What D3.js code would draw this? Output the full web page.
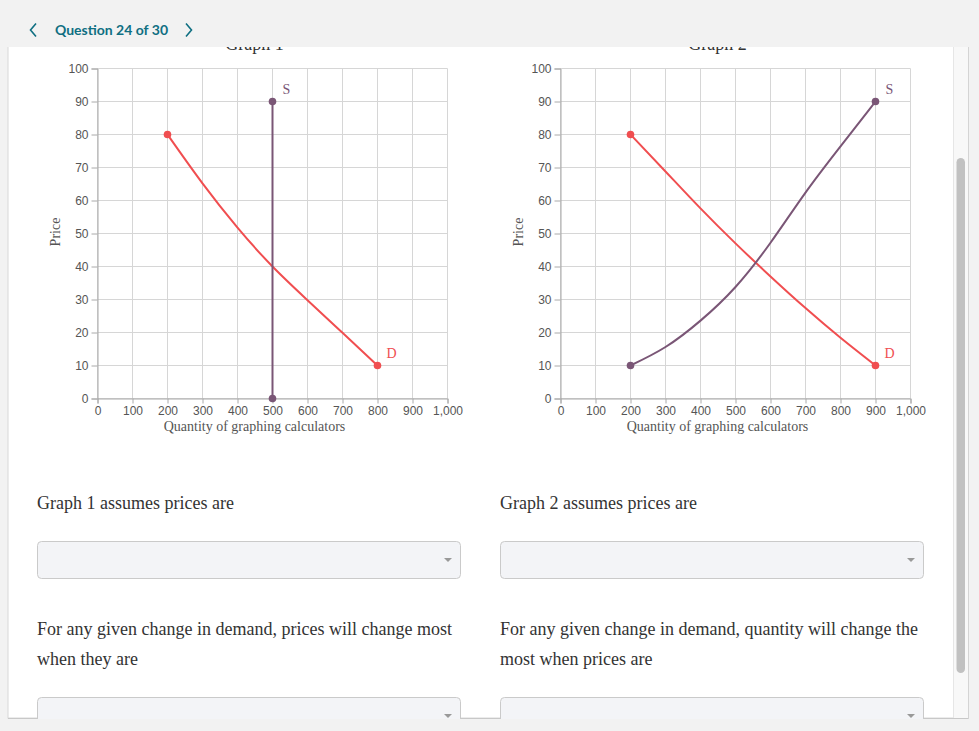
<!DOCTYPE html>
<html><head><meta charset="utf-8">
<script src="https://cdn.jsdelivr.net/npm/d3@7"></script>
<style>
html,body{margin:0;padding:0;background:#f2f2f2;overflow:hidden;}
svg{display:block;}
</style></head>
<body>
<svg id="page" width="979" height="731"></svg>
<script>
// ---- data ----
const xTickValues = [0,100,200,300,400,500,600,700,800,900,1000];
const yTickValues = [0,10,20,30,40,50,60,70,80,90,100];
const chartTitles = ["Graph 1","Graph 2"];
const xAxisTitle = "Quantity of graphing calculators";
const yAxisTitle = "Price";

const g1DemandQty   = [200,300,400,500,600,700,800];
const g1DemandPrice = [80,65.2,51.8,40,29.8,19.9,10];
const g1SupplyQty   = [500,500];
const g1SupplyPrice = [0,90];

const g2DemandQty   = [200,300,400,500,600,700,800,900];
const g2DemandPrice = [80,68.8,57.6,47,37,27.4,18.4,10];
const g2SupplyQty   = [200,300,400,500,600,700,800,900];
const g2SupplyPrice = [10,15.6,23.6,33.8,47.2,62.4,76.4,90];

const questionLabel = "Question 24 of 30";
const prompts = [
  ["Graph 1 assumes prices are"],
  ["Graph 2 assumes prices are"],
  ["For any given change in demand, prices will change most","when they are"],
  ["For any given change in demand, quantity will change the","most when prices are"]
];

const demandColor = "#f04e50", supplyColor = "#7a5676";

const svg = d3.select("#page");

// card
svg.append("rect").attr("x",8).attr("y",40).attr("width",960).attr("height",678)
  .attr("fill","#fff").attr("stroke","#d8d8d8").attr("stroke-width",1);
svg.append("line").attr("x1",8).attr("x2",968.5).attr("y1",718.5).attr("y2",718.5).attr("stroke","#c8c8c8");

const charts = [
  {x0:97.5, title:chartTitles[0], demand:[g1DemandQty,g1DemandPrice], supply:[g1SupplyQty,g1SupplyPrice], supplyCurve:d3.curveLinear},
  {x0:560.5, title:chartTitles[1], demand:[g2DemandQty,g2DemandPrice], supply:[g2SupplyQty,g2SupplyPrice], supplyCurve:d3.curveNatural}
];

charts.forEach(c=>{
  const x = d3.scaleLinear().domain([0,1000]).range([c.x0, c.x0+350]);
  const y = d3.scaleLinear().domain([0,100]).range([398.5, 68.5]);
  const g = svg.append("g");

  // title (partly hidden under header)
  g.append("text").attr("x",c.x0+157).attr("y",50).attr("text-anchor","middle")
    .attr("font-family","Liberation Serif, serif").attr("font-size",18).attr("fill","#333").text(c.title);

  // grid
  g.append("g").selectAll("line").data(xTickValues).join("line")
    .attr("x1",d=>x(d)).attr("x2",d=>x(d)).attr("y1",y(0)).attr("y2",y(100))
    .attr("stroke","#d6d6d6").attr("stroke-width",1);
  g.append("g").selectAll("line").data(yTickValues).join("line")
    .attr("x1",x(0)).attr("x2",x(1000)).attr("y1",d=>y(d)).attr("y2",d=>y(d))
    .attr("stroke","#d6d6d6").attr("stroke-width",1);

  // axes
  const xAxis = d3.axisBottom(x).tickValues(xTickValues).tickFormat(d3.format(",")).tickSize(5).tickPadding(3);
  const yAxis = d3.axisLeft(y).tickValues(yTickValues).tickSize(6).tickPadding(3);
  const gx = g.append("g").attr("transform",`translate(0,${y(0)})`).call(xAxis);
  const gy = g.append("g").attr("transform",`translate(${x(0)},0)`).call(yAxis);
  [gx,gy].forEach(a=>{
    a.select(".domain").attr("stroke","#aaa");
    a.selectAll(".tick line").attr("stroke","#aaa");
    a.selectAll(".tick text").attr("fill","#555").attr("font-family","Liberation Sans, Arial, sans-serif").attr("font-size",12);
  });

  // axis titles
  g.append("text").attr("x",c.x0+157).attr("y",431).attr("text-anchor","middle")
    .attr("font-family","Liberation Serif, serif").attr("font-size",14).attr("fill","#555").text(xAxisTitle);
  g.append("text").attr("transform",`translate(${c.x0-38},232) rotate(-90)`).attr("text-anchor","middle")
    .attr("font-family","Liberation Serif, serif").attr("font-size",14).attr("fill","#555").text(yAxisTitle);

  // curves
  const drawCurve = (qty, price, color, curve, label)=>{
    const pts = qty.map((q,i)=>[q,price[i]]);
    g.append("path").datum(pts)
      .attr("d", d3.line().x(d=>x(d[0])).y(d=>y(d[1])).curve(curve))
      .attr("fill","none").attr("stroke",color).attr("stroke-width",2);
    const ends = [pts[0], pts[pts.length-1]];
    g.selectAll(null).data(ends).join("circle")
      .attr("cx",d=>x(d[0])).attr("cy",d=>y(d[1])).attr("r",3.8).attr("fill",color);
    const last = pts[pts.length-1];
    g.append("text").attr("x",x(last[0])+14).attr("y",y(last[1])-8)
      .attr("text-anchor","middle").attr("font-family","Liberation Serif, serif").attr("font-size",14)
      .attr("fill",color).text(label);
  };
  drawCurve(c.demand[0], c.demand[1], demandColor, d3.curveNatural, "D");
  drawCurve(c.supply[0], c.supply[1], supplyColor, c.supplyCurve, "S");
});

// prompts and dropdowns
const col = [37, 500];
const txt = (x0,y0,lines)=>{
  lines.forEach((l,i)=>svg.append("text").attr("x",x0).attr("y",y0+i*30)
    .attr("font-family","Liberation Serif, serif").attr("font-size",18).attr("fill","#333").text(l));
};
txt(col[0],509,prompts[0]); txt(col[1],509,prompts[1]);
txt(col[0],635,prompts[2]); txt(col[1],635,prompts[3]);

const dropdown = (x0,y0,h)=>{
  svg.append("rect").attr("x",x0+0.5).attr("y",y0+0.5).attr("width",423).attr("height",h)
    .attr("rx",4).attr("fill","#f3f4f7").attr("stroke","#cacaca");
  svg.append("path").attr("d",`M${x0+407},${y0+17} l8,0 l-4,4 z`).attr("fill","#999");
};
dropdown(37,541,37); dropdown(500,541,37);
dropdown(37,697,37); dropdown(500,697,37);

// mask below card
svg.append("rect").attr("x",0).attr("y",719).attr("width",979).attr("height",12).attr("fill","#f2f2f2");

// scrollbar
svg.append("rect").attr("x",953).attr("y",47).attr("width",15).attr("height",671).attr("fill","#f8f8f8");
svg.append("line").attr("x1",953.5).attr("x2",953.5).attr("y1",47).attr("y2",718).attr("stroke","#e6e6e6");
svg.append("line").attr("x1",968.5).attr("x2",968.5).attr("y1",40).attr("y2",719).attr("stroke","#d4d4d4");
svg.append("rect").attr("x",956.5).attr("y",158).attr("width",8.5).attr("height",515).attr("rx",4.25).attr("fill","#c1c1c1");

// header overlay
svg.append("rect").attr("x",0).attr("y",0).attr("width",979).attr("height",47).attr("fill","#f2f2f2");
svg.append("path").attr("d","M36,23.5 L30.5,30 L36,36.5").attr("fill","none").attr("stroke","#0f6f82").attr("stroke-width",1.6);
svg.append("path").attr("d","M186,23.5 L191.5,30 L186,36.5").attr("fill","none").attr("stroke","#0f6f82").attr("stroke-width",1.6);
svg.append("text").attr("x",55).attr("y",35).attr("font-family","Lato, Open Sans, sans-serif").attr("font-weight",700)
  .attr("font-size",14).attr("fill","#0f6f82").text(questionLabel);
</script>
</body></html>
